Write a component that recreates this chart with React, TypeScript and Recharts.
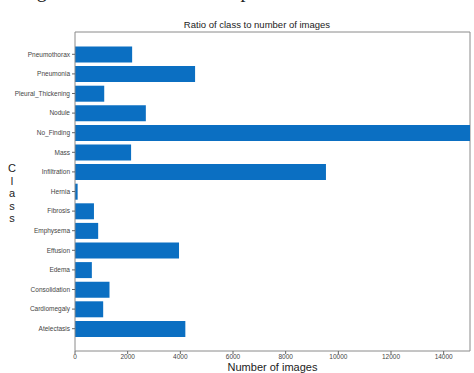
import { BarChart, Bar, XAxis, YAxis, CartesianGrid } from "recharts";

// classes in matplotlib order (bottom to top)
const classes = [
  "Atelectasis",
  "Cardiomegaly",
  "Consolidation",
  "Edema",
  "Effusion",
  "Emphysema",
  "Fibrosis",
  "Hernia",
  "Infiltration",
  "Mass",
  "No_Finding",
  "Nodule",
  "Pleural_Thickening",
  "Pneumonia",
  "Pneumothorax",
];
const imageCounts = [4190, 1070, 1310, 640, 3950, 880, 720, 100, 9530, 2130, 15000, 2690, 1110, 4560, 2170];
const xTicks = [0, 2000, 4000, 6000, 8000, 10000, 12000, 14000];
const xMax = 15000;

const data = classes.map((name, i) => ({ name, count: imageCounts[i] }));

const tickStyle = { fill: "#444", fontSize: 6.5, fontFamily: "Liberation Sans, Arial, sans-serif" };

const ClassLabel = () => (
  <text
    x={12}
    textAnchor="middle"
    fill="#222"
    fontSize={11}
    fontFamily="Liberation Sans, Arial, sans-serif"
  >
    {"Class".split("").map((ch, i) => (
      <tspan key={i} x={12} y={172 + i * 12.5}>
        {ch}
      </tspan>
    ))}
  </text>
);

export default function App() {
  return (
    <div style={{ position: "absolute", left: 0, top: 0, width: 474, height: 373, background: "#fff", overflow: "hidden" }}>
      <div
        style={{
          position: "absolute",
          left: 20,
          top: -20,
          fontFamily: "Liberation Serif, Times New Roman, serif",
          fontSize: 20,
          lineHeight: "20px",
          whiteSpace: "nowrap",
          color: "#222",
        }}
      >
        Fig. 4 shows the relationship of the data set ratio.
      </div>
      <div
        style={{
          position: "absolute",
          left: 0,
          top: 19,
          width: 514,
          textAlign: "center",
          fontFamily: "Liberation Sans, Arial, sans-serif",
          fontSize: 9.5,
          color: "#222",
        }}
      >
        Ratio of class to number of images
      </div>
      <BarChart
        width={474}
        height={373}
        data={data}
        layout="vertical"
        margin={{ top: 32, right: 4, bottom: 0, left: 0 }}
      >
        <CartesianGrid
          stroke="#8a8a8a"
          horizontalCoordinatesGenerator={({ offset }: any) => [offset.top]}
          verticalCoordinatesGenerator={({ offset }: any) => [offset.left + offset.width]}
        />
        <XAxis
          type="number"
          domain={[0, xMax]}
          ticks={xTicks}
          allowDataOverflow
          height={22}
          tickSize={3}
          tick={{ ...tickStyle, dy: -2 }}
          axisLine={{ stroke: "#8a8a8a" }}
          tickLine={{ stroke: "#666" }}
          label={{
            value: "Number of images",
            position: "insideBottom",
            offset: 2,
            fill: "#222",
            fontSize: 11,
            fontFamily: "Liberation Sans, Arial, sans-serif",
          }}
        />
        <YAxis
          type="category"
          dataKey="name"
          reversed
          width={75}
          interval={0}
          padding={{ top: 12.5, bottom: 12.5 }}
          tickSize={3}
          tick={tickStyle}
          axisLine={{ stroke: "#8a8a8a" }}
          tickLine={{ stroke: "#666" }}
          label={<ClassLabel />}
        />
        <Bar dataKey="count" fill="#0b6fc2" barSize={16} isAnimationActive={false} />
      </BarChart>
    </div>
  );
}
